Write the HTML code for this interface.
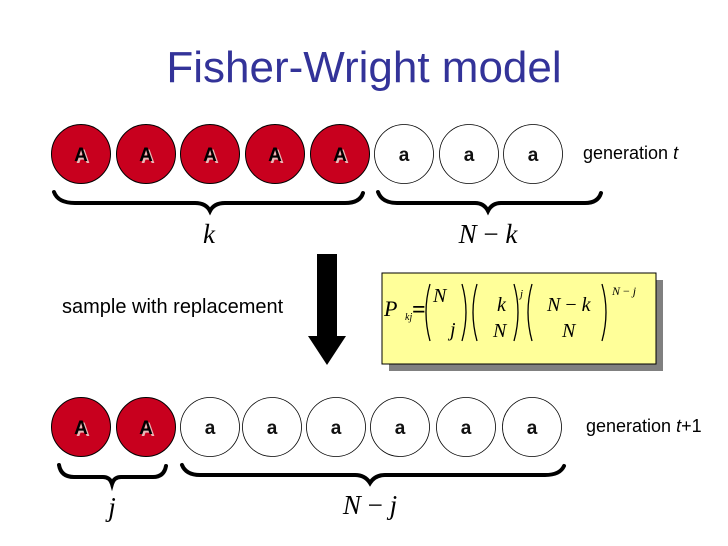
<!DOCTYPE html>
<html><head><style>
body{margin:0;background:#fff;}
svg{display:block}
</style></head><body>
<svg width="728" height="546" viewBox="0 0 728 546" xmlns="http://www.w3.org/2000/svg">
<text x="364" y="82" text-anchor="middle" font-family="Liberation Sans, sans-serif" font-size="44" fill="#333399">Fisher-Wright model</text>

<g font-family="Liberation Sans, sans-serif" font-weight="bold" font-size="19" text-anchor="middle">
<g fill="#c8001e" stroke="#000" stroke-width="1">
<circle cx="81" cy="154" r="29.5"/><circle cx="146" cy="154" r="29.5"/><circle cx="210" cy="154" r="29.5"/><circle cx="275" cy="154" r="29.5"/><circle cx="340" cy="154" r="29.5"/>
<circle cx="81" cy="427" r="29.5"/><circle cx="146" cy="427" r="29.5"/>
</g>
<g fill="#fff" stroke="#000" stroke-width="0.8">
<circle cx="404" cy="154" r="29.5"/><circle cx="469" cy="154" r="29.5"/><circle cx="533" cy="154" r="29.5"/>
<circle cx="210" cy="427" r="29.5"/><circle cx="272" cy="427" r="29.5"/><circle cx="336" cy="427" r="29.5"/><circle cx="400" cy="427" r="29.5"/><circle cx="466" cy="427" r="29.5"/><circle cx="532" cy="427" r="29.5"/>
</g>
<g fill="#e8b8b8">
<text x="83" y="163">A</text><text x="148" y="163">A</text><text x="212" y="163">A</text><text x="277" y="163">A</text><text x="342" y="163">A</text>
<text x="83" y="436">A</text><text x="148" y="436">A</text>
</g>
<g fill="#000">
<text x="81" y="161">A</text><text x="146" y="161">A</text><text x="210" y="161">A</text><text x="275" y="161">A</text><text x="340" y="161">A</text>
<text x="81" y="434">A</text><text x="146" y="434">A</text>
</g>
<g fill="#111">
<text x="404" y="161">a</text><text x="469" y="161">a</text><text x="533" y="161">a</text>
<text x="210" y="434">a</text><text x="272" y="434">a</text><text x="336" y="434">a</text><text x="400" y="434">a</text><text x="466" y="434">a</text><text x="532" y="434">a</text>
</g>
</g>

<g fill="none" stroke="#000" stroke-width="4" stroke-linecap="round">
<path d="M54 192 Q58 203 75 203 L195 203 Q206 203 210 211 Q214 203 225 203 L345 203 Q360 203 363 193"/>
<path d="M378 192 Q382 203 397 203 L475 203 Q484 203 488 211 Q492 203 501 203 L585 203 Q598 203 601 193"/>
<path d="M59 465 Q61 477 74 477 L103 477 Q110 477 112 484 Q114 477 121 477 L153 477 Q164 477 166 466"/>
<path d="M182 465 Q186 475 200 475 L355 475 Q365 475 370 483 Q375 475 385 475 L545 475 Q560 475 564 466"/>
</g>

<g font-family="Liberation Serif, serif" font-style="italic" font-size="27" text-anchor="middle" fill="#000">
<text x="209" y="243">k</text>
<text x="488" y="243">N <tspan font-style="normal">−</tspan> k</text>
<text x="112" y="516">j</text>
<text x="370" y="514">N <tspan font-style="normal">−</tspan> j</text>
</g>

<g font-family="Liberation Sans, sans-serif" font-size="18" fill="#000">
<text x="583" y="159">generation <tspan font-style="italic">t</tspan></text>
<text x="586" y="432">generation <tspan font-style="italic">t</tspan>+1</text>
<text x="62" y="313" font-size="20">sample with replacement</text>
</g>

<rect x="317" y="254" width="20" height="83" fill="#000"/>
<polygon points="308,336 346,336 327,365" fill="#000"/>

<rect x="389" y="280" width="274" height="91" fill="#808080"/>
<rect x="382" y="273" width="274" height="91" fill="#ffff99" stroke="#000" stroke-width="1"/>
<g fill="none" stroke="#000" stroke-width="1.3">
<path d="M430 284 Q422 312 430 341"/>
<path d="M462 284 Q470 312 462 341"/>
<path d="M477 284 Q469 312 477 341"/>
<path d="M514 284 Q522 312 514 341"/>
<path d="M532 284 Q524 312 532 341"/>
<path d="M602 284 Q610 312 602 341"/>
</g>
<g font-family="Liberation Serif, serif" font-style="italic" fill="#000">
<text x="384" y="316" font-size="22">P</text>
<text x="405" y="320" font-size="10">kj</text>
<text x="412" y="317" font-size="24" font-style="normal" font-weight="bold">=</text>
<text x="433" y="302" font-size="20">N</text>
<text x="450" y="336" font-size="20">j</text>
<text x="497" y="311" font-size="20">k</text>
<text x="493" y="337" font-size="20">N</text>
<text x="520" y="297" font-size="11">j</text>
<text x="547" y="311" font-size="20">N <tspan font-style="normal">−</tspan> k</text>
<text x="562" y="337" font-size="20">N</text>
<text x="612" y="295" font-size="12">N <tspan font-style="normal">−</tspan> j</text>
</g>
</svg>
</body></html>
